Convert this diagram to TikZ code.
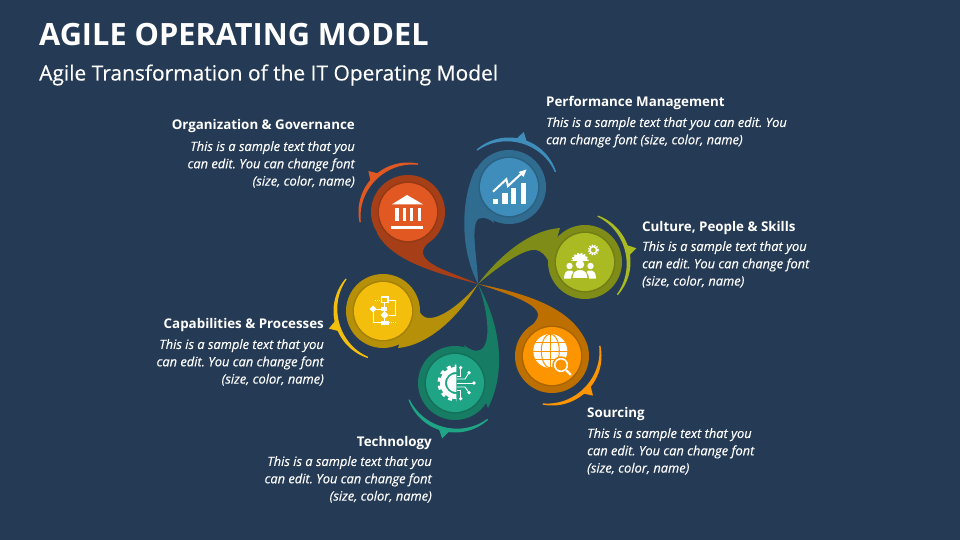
\documentclass[tikz,border=0pt]{standalone}
\usepackage{fontspec}
\setmainfont{Open Sans}
\newfontfamily\subf[FakeBold=0.35]{Open Sans}
\newfontfamily\bodyf[ItalicFeatures={FakeBold=0.3}]{Open Sans}
\definecolor{bgc}{HTML}{253A54}
\definecolor{redA}{HTML}{E25822}\definecolor{redB}{HTML}{A63F17}
\definecolor{bluA}{HTML}{3F8DBA}\definecolor{bluB}{HTML}{2F6C90}
\definecolor{grnA}{HTML}{A9BA22}\definecolor{grnB}{HTML}{7F8C18}
\definecolor{ornA}{HTML}{FC9500}\definecolor{ornB}{HTML}{BD7000}
\definecolor{yelA}{HTML}{F3BE0C}\definecolor{yelB}{HTML}{B69009}
\definecolor{tealA}{HTML}{1FA585}\definecolor{tealB}{HTML}{177C64}
\newcommand{\arcarrow}[6]{% cx cy start end tip colour
  \fill[#6] plot[domain=#3:#4,samples=40] ({#1+49.5*cos(\x)},{#2-49.5*sin(\x)})
    -- plot[domain=#4:#3,samples=40] ({#1+(49.5-1.3-2.8*sin((180/((#4)-(#3)))*(\x-(#3))))*cos(\x)},{#2-(49.5-1.3-2.8*sin((180/((#4)-(#3)))*(\x-(#3))))*sin(\x)}) -- cycle;
  \fill[#6] ({#1+48*cos(#5-7)},{#2-48*sin(#5-7)}) -- ({#1+57*cos(#5)},{#2-57*sin(#5)}) -- ({#1+48*cos(#5+7)},{#2-48*sin(#5+7)}) -- cycle;
}
\newcommand{\disc}[4]{% cx cy light dark
  \fill[#4] (#1,#2) circle[radius=37pt];
  \fill[#4!90!black] (#1,#2) circle[radius=30.5pt];
  \fill[#3] (#1,#2) circle[radius=29pt];
}
\tikzset{
  x=1pt,y=-1pt,
  head/.style={font=\bfseries\fontsize{13.35}{17}\selectfont,text=white,inner sep=0pt},
  body/.style={font=\bodyf\itshape\frenchspacing\fontsize{12.85}{17.3}\selectfont,text=white,inner sep=0pt},
  ico/.style={white},
}
\begin{document}
\begin{tikzpicture}
\useasboundingbox (0,0) rectangle (960,540);
\fill[bgc] (0,0) rectangle (960,540);
\node[anchor=base west,inner sep=0pt,text=white,font=\bfseries\fontsize{30.7}{36}\selectfont] (title) at (39,46) {AGILE OPERATING MODEL};
\node[anchor=base west,inner sep=0pt,text=white,font=\subf\fontsize{20.95}{24}\selectfont] (subtitle) at (39,80.5) {Agile Transformation of the IT Operating Model};
% tails
\fill[redB] (377,233) .. controls (392,262) and (440,274) .. (478,284) .. controls (455,273) and (416,264) .. (424,248) -- (430,240) -- cycle;
\fill[bluB] (476,168) .. controls (462,195) and (458,245) .. (478,284) .. controls (478,262) and (470,228) .. (478,219) .. controls (483,216) and (490,219) .. (494,223) -- cycle;
\fill[grnB] (560,228) .. controls (530,230) and (500,255) .. (478,284) .. controls (500,265) and (525,248) .. (536,250) .. controls (542,251) and (546,256) .. (550,264) -- cycle;
\fill[ornB] (588,348) .. controls (578,312) and (535,295) .. (478,284) .. controls (505,293) and (538,303) .. (538,315) .. controls (538,320) and (533,324) .. (526,332) -- cycle;
\fill[yelB] (398,348) .. controls (430,345) and (460,315) .. (478,284) .. controls (460,305) and (440,319) .. (428,318) .. controls (420,317) and (417,308) .. (415,296) -- cycle;
\fill[tealB] (488,408) .. controls (505,375) and (503,330) .. (478,284) .. controls (488,310) and (492,345) .. (480,350) .. controls (475,352) and (470,350) .. (464,345) -- cycle;
% discs
\disc{408}{212}{redA}{redB}
\disc{509}{187}{bluA}{bluB}
\disc{585}{262}{grnA}{grnB}
\disc{552}{356}{ornA}{ornB}
\disc{383}{311}{yelA}{yelB}
\disc{455}{383}{tealA}{tealB}
% arcs
\arcarrow{408}{212}{78}{192}{134}{redA}
\arcarrow{509}{187}{18}{131}{75}{bluA}
\arcarrow{581}{262}{-42}{70}{14}{grnA}
\arcarrow{552}{356}{-101}{12}{-44}{ornA}
\arcarrow{383}{311}{139}{252}{198}{yelA}
\arcarrow{455}{383}{200}{312}{257}{tealA}
% bank icon
\fill[ico] (392,204.3) -- (407,195) -- (423,204.3) -- cycle;
\foreach \a in {395.3,402.7,410,417.7}{\fill[ico] (\a,207.7) rectangle ++(3.4,13.3);}
\fill[ico] (391,225.7) rectangle (423,229);
% chart icon
\fill[ico] (493,198.5) rectangle (498,204);
\fill[ico] (502.3,193) rectangle (508,204);
\fill[ico] (511.3,188) rectangle (516.3,204);
\fill[ico] (520.7,182.7) rectangle (525.7,204);
\draw[ico,line width=2pt] (493,191.7) -- (506.3,179.3) -- (508,186) -- (522,173);
\fill[ico] (526.5,169.5) -- (518.5,172) -- (523.5,177) -- cycle;
% people icon
\begin{scope}
\clip (570,250) rectangle (590,260.6);
\draw[ico,line width=1.6pt,dash pattern=on 1.8pt off 1.6pt] (580,261.5) circle[radius=8pt];
\fill[ico] (580,261.5) circle[radius=7.6pt];
\end{scope}
\fill[ico] (580,264.5) circle[radius=4.2pt];
\fill[ico] (569.5,266) circle[radius=3.2pt];
\fill[ico] (590.5,266) circle[radius=3.2pt];
\draw[grnA,line width=1pt,fill=white] (572,278.7) .. controls (572,272) and (575,269.5) .. (580,269.5) .. controls (585,269.5) and (588,272) .. (588,278.7) -- cycle;
\fill[ico] (564,278.7) .. controls (564,273) and (566,270.5) .. (569.5,270.5) .. controls (571.5,270.5) and (572.5,271) .. (573.5,272) .. controls (571.8,273.5) and (571,276) .. (570.8,278.7) -- cycle;
\fill[ico] (596,278.7) .. controls (596,273) and (594,270.5) .. (590.5,270.5) .. controls (588.5,270.5) and (587.5,271) .. (586.5,272) .. controls (588.2,273.5) and (589,276) .. (589.2,278.7) -- cycle;
\draw[ico,line width=1.5pt] (593.3,250) circle[radius=3.4pt];
\draw[ico,line width=1.4pt,dash pattern=on 1.3pt off 1.3pt] (593.3,250) circle[radius=4.9pt];
% globe icon
\fill[ico] (550.3,351) circle[radius=17pt];
\begin{scope}[ornA,line width=1pt]
\draw (550.3,334) -- (550.3,368);
\draw (533,351) -- (568,351);
\draw (535,342.5) -- (566,342.5);
\draw (535,359.5) -- (566,359.5);
\draw (550.3,351) ellipse[x radius=9pt,y radius=17pt];
\end{scope}
\draw[ornA,line width=1.5pt,fill=white] (561,365) circle[radius=8pt];
\fill[ornA] (561,365) circle[radius=5.6pt];
\draw[ico,line width=2.4pt,line cap=round] (566.5,370.5) -- (570.5,374.5);
% gear and circuit icon
\begin{scope}
\clip (430,360) rectangle (456.3,405);
\draw[ico,line width=3pt,dash pattern=on 4pt off 4pt] (456,383) circle[radius=17pt];
\draw[ico,line width=5pt] (456,383) circle[radius=13.5pt];
\fill[ico] (456,383) circle[radius=9pt];
\end{scope}
\begin{scope}[ico,line width=.9pt]
\draw (456.5,376) -- (460.7,376) -- (460.7,367.7);
\draw (456.5,379) -- (465,379) -- (469,372.7);
\draw (456.5,383) -- (474,383);
\draw (456.5,387) -- (465,387) -- (469,392.7);
\draw (456.5,390) -- (460.7,390) -- (460.7,398.7);
\foreach \p in {(460.7,367.7),(469,372.7),(474,383),(469,392.7),(460.7,398.7)}{\fill \p circle[radius=1.8pt];}
\end{scope}
% flowchart icon
\begin{scope}[ico,line width=.8pt]
\draw[line width=1.2pt] (381.3,297) rectangle (388,302.7);
\fill (381.3,306.7) rectangle (387,310.7);
\fill (384.7,311) -- (388.7,315) -- (384.7,319) -- (380.7,315) -- cycle;
\fill (373,305.5) -- (376.5,309) -- (373,312.5) -- (369.5,309) -- cycle;
\fill (381.3,320.7) rectangle (388.7,325);
\draw (384.7,302.7) -- (384.7,320.7);
\draw (376,309) -- (381.3,309);
\draw (388,300) -- (395.3,300) -- (395.3,315) -- (389.3,315);
\draw (373,312) -- (373,322.7) -- (381,322.7);
\draw[dash pattern=on 1pt off 1pt] (375.3,300.7) -- (381,300.7);
\draw[dash pattern=on 1pt off 1pt] (389,322.7) -- (395.5,322.7);
\end{scope}
% labels
\node[head,anchor=base east] (h1) at (355,130) {Organization \& Governance};
\node[body,anchor=north east,align=right] (b1) at (355,141) {This is a sample text that you\\can edit. You can change font\\(size, color, name)};
\node[head,anchor=base west] (h2) at (546,107) {Performance Management};
\node[body,anchor=north west,align=left] (b2) at (546,117) {This is a sample text that you can edit. You\\can change font (size, color, name)};
\node[head,anchor=base west] (h3) at (642,231) {Culture, People \& Skills};
\node[body,anchor=north west,align=left] (b3) at (642,241) {This is a sample text that you\\can edit. You can change font\\(size, color, name)};
\node[head,anchor=base west] (h4) at (587,417) {Sourcing};
\node[body,anchor=north west,align=left] (b4) at (587,428) {This is a sample text that you\\can edit. You can change font\\(size, color, name)};
\node[head,anchor=base east] (h5) at (432,446) {Technology};
\node[body,anchor=north east,align=right] (b5) at (432,456) {This is a sample text that you\\can edit. You can change font\\(size, color, name)};
\node[head,anchor=base east] (h6) at (324,328) {Capabilities \& Processes};
\node[body,anchor=north east,align=right] (b6) at (324,339) {This is a sample text that you\\can edit. You can change font\\(size, color, name)};
\end{tikzpicture}
\end{document}
